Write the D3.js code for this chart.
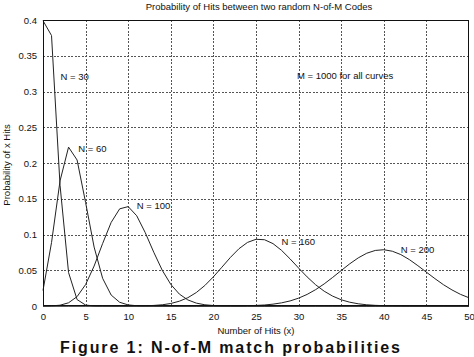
<!DOCTYPE html>
<html>
<head>
<meta charset="utf-8">
<script src="https://cdn.jsdelivr.net/npm/d3@7"></script>
<style>
  html, body { margin: 0; padding: 0; background: #fff; }
  svg { display: block; font-family: "Liberation Sans", Arial, Helvetica, sans-serif; }
</style>
</head>
<body>
<svg id="chart" width="474" height="357"></svg>
<script>
// ---------- data ----------
const hits = [0,1,2,3,4,5,6,7,8,9,10,11,12,13,14,15,16,17,18,19,20,21,22,23,24,25,26,27,28,29,30,31,32,33,34,35,36,37,38,39,40,41,42,43,44,45,46,47,48,49,50];

const probN30 = [0.3990,0.3783,0.1689,0.0468,0.0090,0.0013,0.0001,0,0,0,
  0,0,0,0,0,0,0,0,0,0,
  0,0,0,0,0,0,0,0,0,0,
  0,0,0,0,0,0,0,0,0,0,
  0,0,0,0,0,0,0,0,0,0,
  0];
const probN60 = [0.0217,0.0887,0.1750,0.2222,0.2042,0.1447,0.0824,0.0387,0.0153,0.0052,
  0.0015,0.0004,0.0001,0,0,0,0,0,0,0,
  0,0,0,0,0,0,0,0,0,0,
  0,0,0,0,0,0,0,0,0,0,
  0,0,0,0,0,0,0,0,0,0,
  0];
const probN100 = [0,0.0002,0.0011,0.0045,0.0131,0.0300,0.0559,0.0874,0.1169,0.1359,
  0.1390,0.1262,0.1026,0.0752,0.0499,0.0302,0.0167,0.0085,0.0040,0.0017,
  0.0007,0.0003,0.0001,0,0,0,0,0,0,0,
  0,0,0,0,0,0,0,0,0,0,
  0,0,0,0,0,0,0,0,0,0,
  0];
const probN160 = [0,0,0,0,0,0,0,0,0,0,
  0,0.0001,0.0003,0.0008,0.0017,0.0035,0.0067,0.0116,0.0189,0.0287,
  0.0408,0.0543,0.0680,0.0801,0.0889,0.0933,0.0927,0.0872,0.0778,0.0659,
  0.0531,0.0407,0.0297,0.0207,0.0138,0.0087,0.0053,0.0031,0.0017,0.0009,
  0.0005,0.0002,0.0001,0,0,0,0,0,0,0,
  0];
const probN200 = [0,0,0,0,0,0,0,0,0,0,
  0,0,0,0,0,0,0,0,0,0,
  0,0,0.0001,0.0002,0.0004,0.0008,0.0014,0.0026,0.0044,0.0071,
  0.0110,0.0162,0.0229,0.0309,0.0400,0.0496,0.0590,0.0673,0.0738,0.0777,
  0.0787,0.0766,0.0719,0.0649,0.0564,0.0473,0.0383,0.0298,0.0225,0.0163,
  0.0115];

const seriesNames = ["N = 30", "N = 60", "N = 100", "N = 160", "N = 200"];
const xTicks = [0,5,10,15,20,25,30,35,40,45,50];
const yTicks = [0,0.05,0.1,0.15,0.2,0.25,0.3,0.35,0.4];
const yTickLabels = ["0","0.05","0.1","0.15","0.2","0.25","0.3","0.35","0.4"];
const titleText = "Probability of Hits between two random N-of-M Codes";
const xLabelText = "Number of Hits (x)";
const yLabelText = "Probability of x Hits";
const noteText = "M = 1000 for all curves";
const captionText = "Figure 1: N-of-M match probabilities";

// ---------- layout ----------
const W = 474, H = 357;
const m = { left: 43, right: 5, top: 20, bottom: 51 };
const iw = W - m.left - m.right, ih = H - m.top - m.bottom;

const svg = d3.select("#chart");
const x = d3.scaleLinear().domain([0, 50]).range([m.left, m.left + iw]);
const y = d3.scaleLinear().domain([0, 0.4]).range([m.top + ih, m.top]);

// grid
const grid = svg.append("g").attr("shape-rendering", "crispEdges")
  .attr("stroke", "#555").attr("stroke-width", 1).attr("stroke-dasharray", "2,1.5");
grid.selectAll("line.vx").data(xTicks.slice(1, -1)).join("line")
  .attr("x1", d => Math.round(x(d)) + 0.5).attr("x2", d => Math.round(x(d)) + 0.5)
  .attr("y1", m.top).attr("y2", m.top + ih);
grid.selectAll("line.hy").data(yTicks.slice(1, -1)).join("line")
  .attr("y1", d => Math.round(y(d)) + 0.5).attr("y2", d => Math.round(y(d)) + 0.5)
  .attr("x1", m.left).attr("x2", m.left + iw);

// axes (tick labels only; frame drawn separately)
const xAxis = d3.axisBottom(x).tickValues(xTicks).tickSize(0).tickPadding(7);
const gx = svg.append("g").attr("transform", `translate(0,${m.top + ih})`).call(xAxis);
gx.select(".domain").remove();
gx.selectAll("text").attr("font-size", 9.5).attr("fill", "#111").attr("font-family", "Liberation Sans, Arial, sans-serif");

const yAxis = d3.axisLeft(y).tickValues(yTicks).tickSize(0).tickPadding(6)
  .tickFormat((d, i) => yTickLabels[i]);
const gy = svg.append("g").attr("transform", `translate(${m.left},0)`).call(yAxis);
gy.select(".domain").remove();
gy.selectAll("text").attr("font-size", 9.5).attr("fill", "#111").attr("font-family", "Liberation Sans, Arial, sans-serif");

// curves
const allSeries = [probN30, probN60, probN100, probN160, probN200];
const line = d3.line().x((d, i) => x(hits[i])).y(d => y(d));
svg.append("g").selectAll("path").data(allSeries).join("path")
  .attr("d", d => line(d))
  .attr("fill", "none").attr("stroke", "#222").attr("stroke-width", 1);

// frame
svg.append("rect").attr("shape-rendering", "crispEdges")
  .attr("x", m.left + 0.5).attr("y", m.top + 0.5)
  .attr("width", iw - 1).attr("height", ih - 1)
  .attr("fill", "none").attr("stroke", "#111").attr("stroke-width", 1);

// curve labels
const labelPos = [[2.05, 0.316], [4.15, 0.216], [11.0, 0.135], [28.0, 0.086], [42.0, 0.0745]];
svg.append("g").selectAll("text").data(seriesNames).join("text")
  .attr("x", (d, i) => x(labelPos[i][0])).attr("y", (d, i) => y(labelPos[i][1]))
  .attr("font-size", 9.5).attr("fill", "#111").text(d => d);

svg.append("text").attr("x", x(29.8)).attr("y", y(0.3175))
  .attr("font-size", 9.5).attr("fill", "#111").text(noteText);

// titles
svg.append("text").attr("x", 259).attr("y", 10).attr("text-anchor", "middle")
  .attr("font-size", 9.5).attr("fill", "#111").text(titleText);
svg.append("text").attr("x", 256).attr("y", 334).attr("text-anchor", "middle")
  .attr("font-size", 9.5).attr("fill", "#111").text(xLabelText);
svg.append("text").attr("transform", "translate(10,165) rotate(-90)").attr("text-anchor", "middle")
  .attr("font-size", 9.5).attr("fill", "#111").text(yLabelText);

// caption of the source figure (bottom edge)
svg.append("text").attr("x", 60).attr("y", 353)
  .attr("font-size", 16).attr("font-weight", "bold").attr("fill", "#111")
  .attr("textLength", 340).attr("lengthAdjust", "spacing").text(captionText);
</script>
</body>
</html>
